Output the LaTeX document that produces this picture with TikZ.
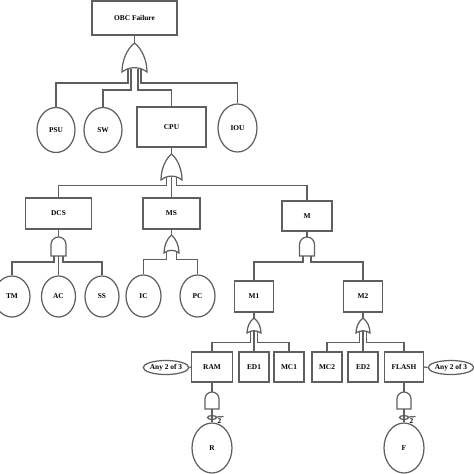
\documentclass[tikz,border=0pt]{standalone}
\usepackage{fontspec}
\setmainfont{Liberation Serif}
\usetikzlibrary{shapes.geometric}

\definecolor{linegray}{RGB}{95,95,95}
\newcommand\pix{0.02cm}
\newcommand\evtfont{\fontsize{4.2}{5}\selectfont\bfseries}

\tikzset{
  wire/.style={draw=linegray, line width=0.7pt},
  evbox/.style={wire, rectangle, inner sep=0pt, font=\evtfont, minimum height=31*\pix},
  basic/.style={wire, ellipse, inner sep=0pt, font=\evtfont},
  pics/orgate/.style 2 args={code={
    \draw[wire] (0,0) .. controls (0.3*#1,0.2*#2) and (0.5*#1,0.6*#2) .. (0.5*#1,#2)
      .. controls (0.2*#1,0.8*#2) and (-0.2*#1,0.8*#2) .. (-0.5*#1,#2)
      .. controls (-0.5*#1,0.6*#2) and (-0.3*#1,0.2*#2) .. cycle;
    \coordinate (-top) at (0,0);
    \coordinate (-bot) at (0,0.88*#2);
  }},
  pics/andgate/.style 2 args={code={
    \draw[wire] (-0.5*#1,#2) -- (-0.5*#1,0.5*#1)
      .. controls (-0.5*#1,0.224*#1) and (-0.276*#1,0) .. (0,0)
      .. controls (0.276*#1,0) and (0.5*#1,0.224*#1) .. (0.5*#1,0.5*#1)
      -- (0.5*#1,#2) -- cycle;
    \coordinate (-top) at (0,0);
    \coordinate (-bot) at (0,#2);
  }},
}

\begin{document}
\begin{tikzpicture}[x=\pix, y=-\pix]
\useasboundingbox (0,0) rectangle (474,474);

% events
\node[evbox, minimum width=85*\pix, minimum height=34*\pix] (obc) at (134.5,18) {OBC Failure};
\node[evbox, minimum width=69*\pix, minimum height=40*\pix] (cpu) at (171.5,127) {CPU};
\node[evbox, minimum width=66*\pix] (dcs) at (58.5,213.5) {DCS};
\node[evbox, minimum width=57*\pix] (ms) at (171.5,213.5) {MS};
\node[evbox, minimum width=50*\pix, minimum height=30*\pix] (m) at (307,216) {M};
\node[evbox, minimum width=39*\pix] (m1) at (254,296.5) {M1};
\node[evbox, minimum width=39*\pix] (m2) at (363,296.5) {M2};
\node[evbox, minimum width=41*\pix, minimum height=30*\pix] (ram) at (212,367) {RAM};
\node[evbox, minimum width=30*\pix, minimum height=30*\pix] (ed1) at (254,367) {ED1};
\node[evbox, minimum width=30*\pix, minimum height=30*\pix] (mc1) at (289,367) {MC1};
\node[evbox, minimum width=30*\pix, minimum height=30*\pix] (mc2) at (327,367) {MC2};
\node[evbox, minimum width=30*\pix, minimum height=30*\pix] (ed2) at (363,367) {ED2};
\node[evbox, minimum width=39*\pix, minimum height=30*\pix] (flash) at (404,367) {FLASH};

% basic events
\node[basic, minimum width=38*\pix, minimum height=45*\pix] (psu) at (56,130) {PSU};
\node[basic, minimum width=38*\pix, minimum height=45*\pix] (sw) at (103,130) {SW};
\node[basic, minimum width=39*\pix, minimum height=48*\pix] (iou) at (237.5,128) {IOU};
\node[basic, minimum width=36*\pix, minimum height=41*\pix] (tm) at (12,296.5) {TM};
\node[basic, minimum width=34*\pix, minimum height=41*\pix] (ac) at (58.5,296.5) {AC};
\node[basic, minimum width=34*\pix, minimum height=41*\pix] (ss) at (102,296.5) {SS};
\node[basic, minimum width=35*\pix, minimum height=42*\pix] (ic) at (143.5,296) {IC};
\node[basic, minimum width=35*\pix, minimum height=42*\pix] (pc) at (197.5,296) {PC};
\node[basic, minimum width=40*\pix, minimum height=50*\pix] (r) at (212,448) {R};
\node[basic, minimum width=40*\pix, minimum height=50*\pix] (f) at (404,448) {F};
\node[basic, minimum width=44*\pix, minimum height=14*\pix] (anyl) at (166,367.5) {Any 2 of 3};
\node[basic, minimum width=44*\pix, minimum height=14*\pix] (anyr) at (451,367.5) {Any 2 of 3};

% gates
\pic (gobc) at (134.5,43) {orgate={25}{29}};
\pic (gcpu) at (171.5,154) {orgate={21}{26}};
\pic (gdcs) at (58.5,237) {andgate={15}{19}};
\pic (gms) at (171.5,235) {orgate={15}{18}};
\pic (gm) at (307,237) {andgate={15}{19}};
\pic (gm1) at (254,318) {orgate={14}{15}};
\pic (gm2) at (363,318) {orgate={14}{15}};
\pic (gram) at (212,392) {andgate={14}{17}};
\pic (gflash) at (404,392) {andgate={14}{17}};

% OBC Failure
\draw[wire] (obc.south) -- (gobc-top);
\draw[wire] (gobc-bot) ++(-6.5,0) -- ++(0,14.5) -| (psu.north);
\draw[wire] (gobc-bot) ++(-3.5,0) -- ++(0,21.5) -| (sw.north);
\draw[wire] (gobc-bot) ++(3.5,0) -- ++(0,21.5) -| (cpu.north);
\draw[wire] (gobc-bot) ++(6.5,0) -- ++(0,14.5) -| (iou.north);

% CPU
\draw[wire] (cpu.south) -- (gcpu-top);
\draw[wire] (gcpu-bot) ++(-5,0) -- ++(0,9) -| (dcs.north);
\draw[wire] (gcpu-bot) -- (ms.north);
\draw[wire] (gcpu-bot) ++(5,0) -- ++(0,9) -| (m.north);

% DCS, MS, M
\draw[wire] (dcs.south) -- (gdcs-top);
\draw[wire] (gdcs-bot) ++(-4.5,0) -- ++(0,6) -| (tm.north);
\draw[wire] (gdcs-bot) -- (ac.north);
\draw[wire] (gdcs-bot) ++(4.5,0) -- ++(0,6) -| (ss.north);
\draw[wire] (ms.south) -- (gms-top);
\draw[wire] (gms-bot) ++(-5,0) -- ++(0,9) -| (ic.north);
\draw[wire] (gms-bot) ++(5,0) -- ++(0,9) -| (pc.north);
\draw[wire] (m.south) -- (gm-top);
\draw[wire] (gm-bot) ++(-4,0) -- ++(0,6) -| (m1.north);
\draw[wire] (gm-bot) ++(4,0) -- ++(0,6) -| (m2.north);

% M1, M2
\draw[wire] (m1.south) -- (gm1-top);
\draw[wire] (gm1-bot) ++(-3.5,0) -- ++(0,11) -| (ram.north);
\draw[wire] (gm1-bot) -- (ed1.north);
\draw[wire] (gm1-bot) ++(3.5,0) -- ++(0,11) -| (mc1.north);
\draw[wire] (m2.south) -- (gm2-top);
\draw[wire] (gm2-bot) ++(-3.5,0) -- ++(0,11) -| (mc2.north);
\draw[wire] (gm2-bot) -- (ed2.north);
\draw[wire] (gm2-bot) ++(3.5,0) -- ++(0,11) -| (flash.north);

% RAM, FLASH
\draw[wire] (anyl.east) -- (ram.west);
\draw[wire] (flash.east) -- (anyr.west);
\draw[wire] (ram.south) -- (gram-top);
\draw[wire] (gram-bot) -- (r.north);
\draw[wire] (gram-bot) ++(0,8.5) ellipse [x radius=2.6pt, y radius=1.1pt];
\draw[wire] (gram-bot) ++(4.5,8) -- ++(7,-0.5);
\node[font=\evtfont, inner sep=0pt] (kr) at (219.5,421.5) {2};
\draw[wire] (flash.south) -- (gflash-top);
\draw[wire] (gflash-bot) -- (f.north);
\draw[wire] (gflash-bot) ++(0,8.5) ellipse [x radius=2.6pt, y radius=1.1pt];
\draw[wire] (gflash-bot) ++(4.5,8) -- ++(7,-0.5);
\node[font=\evtfont, inner sep=0pt] (kf) at (411.5,421.5) {2};
\end{tikzpicture}
\end{document}
